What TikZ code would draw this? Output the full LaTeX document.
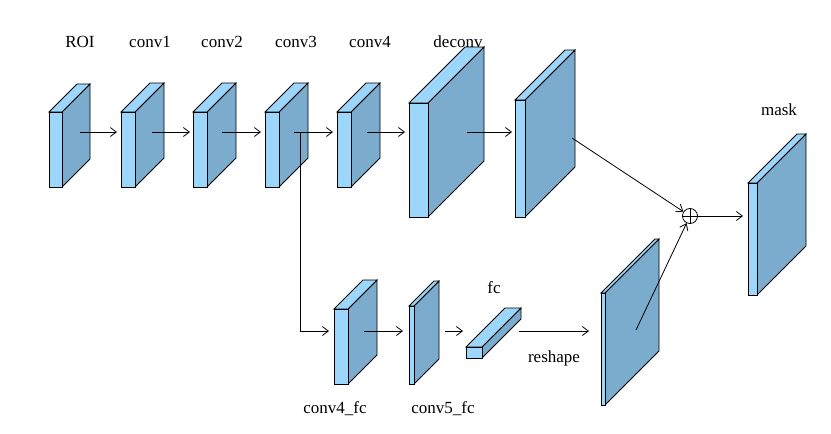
\documentclass[tikz,border=0pt]{standalone}
\usepackage{fontspec}
\setmainfont{Liberation Serif}
\usetikzlibrary{arrows.meta, positioning}
\definecolor{frontblue}{HTML}{9DD6FB}
\definecolor{sideblue}{HTML}{7BACCE}
\tikzstyle{label} = [font=\fontsize{17}{19}\selectfont, inner sep=0pt]
\tikzstyle{connector} = [thick,-{Straight Barb[length=6pt,width=9pt]}]
\tikzstyle{link} = [thick]
% block: x, y (top-left of front face), width, height, depth
\newcommand{\block}[5]{%
  \draw[thick, fill=sideblue] (#1+#3,#2) -- ++(#5,-#5) -- ++(0,#4) -- ++(-#5,#5) -- cycle;
  \draw[thick, fill=frontblue] (#1,#2) -- ++(#5,-#5) -- ++(#3,0) -- ++(-#5,#5) -- cycle;
  \draw[thick, fill=frontblue] (#1,#2) rectangle ++(#3,#4);
}
\begin{document}
\begin{tikzpicture}[x=1pt,y=-1pt]
  \useasboundingbox (0,0) rectangle (831,434);

  % Upper path
  \block{49}{112}{13}{75}{28}
  \block{121}{112}{14}{75}{29}
  \block{193}{112}{14}{75}{29}
  \block{265}{112}{14}{75}{29}
  \block{337}{112}{14}{75}{29}
  \block{409}{103}{19}{114}{56}
  \block{515}{100}{10}{117}{50}
  \block{748}{183}{9}{112}{49}

  % Lower path
  \block{334}{309}{14}{75}{29}
  \block{409}{306}{5}{78}{25}
  \block{466}{347}{16}{11}{39}
  \block{601}{293}{4}{112}{54}

  % Labels
  \node[label] (roi) at (80,42) {ROI};
  \node[label] (conv1) at (150,42) {conv1};
  \node[label] (conv2) at (222,42) {conv2};
  \node[label] (conv3) at (296,42) {conv3};
  \node[label] (conv4) at (370,42) {conv4};
  \node[label] (deconv) at (458,42) {deconv};
  \node[label] (mask) at (779,110) {mask};
  \node[label] (fc) at (494,288) {fc};
  \node[label] (reshape) at (554,358) {reshape};
  \node[label] (conv4fc) at (335,409) {conv4\_fc};
  \node[label] (conv5fc) at (443,409) {conv5\_fc};

  % Connector points
  \coordinate (roiout) at (80,132);
  \coordinate (conv1in) at (117,132);
  \coordinate (conv1out) at (152,132);
  \coordinate (conv2in) at (190,132);
  \coordinate (conv2out) at (222,132);
  \coordinate (conv3in) at (261,132);
  \coordinate (conv3out) at (294,132);
  \coordinate (conv4in) at (333,132);
  \coordinate (conv4out) at (367,132);
  \coordinate (deconvin) at (405,132);
  \coordinate (deconvout) at (467,132);
  \coordinate (upin) at (512,132);
  \coordinate (upout) at (572,138);
  \coordinate (branch) at (300,132);
  \coordinate (bend) at (300,331);
  \coordinate (fcain) at (329,331);
  \coordinate (fcaout) at (364,331);
  \coordinate (fcbin) at (403,331);
  \coordinate (fcbout) at (445,331);
  \coordinate (fcin) at (463,331);
  \coordinate (fcout) at (519,331);
  \coordinate (reshin) at (589,331);
  \coordinate (reshout) at (636,330);
  \coordinate (maskin) at (743,216);
  \node[draw, thick, circle, minimum size=15pt, inner sep=0pt] (plus) at (690,216) {};
  \draw[thick] (plus.north) -- (plus.south) (plus.west) -- (plus.east);

  % Arrows
  \draw[connector] (roiout) -- (conv1in);
  \draw[connector] (conv1out) -- (conv2in);
  \draw[connector] (conv2out) -- (conv3in);
  \draw[connector] (conv3out) -- (conv4in);
  \draw[connector] (conv4out) -- (deconvin);
  \draw[connector] (deconvout) -- (upin);
  \draw[connector] (upout) -- (plus);
  \draw[connector] (reshout) -- (plus);
  \draw[connector] (plus) -- (maskin);
  \draw[connector] (branch) -- (bend) -- (fcain);
  \draw[connector] (fcaout) -- (fcbin);
  \draw[connector] (fcbout) -- (fcin);
  \draw[connector] (fcout) -- (reshin);

\end{tikzpicture}
\end{document}
